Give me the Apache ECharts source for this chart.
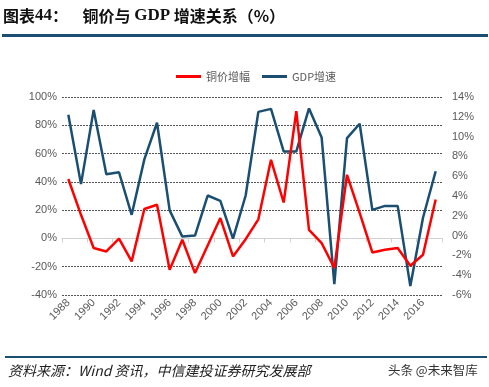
<!DOCTYPE html>
<html><head><meta charset="utf-8">
<script src="https://cdn.jsdelivr.net/npm/echarts@6/dist/echarts.min.js"></script>
<style>html,body{margin:0;padding:0;background:#fff}#c{width:489px;height:387px}</style>
</head><body><div id="c"></div>
<script>
const years = ['1988','1989','1990','1991','1992','1993','1994','1995','1996','1997','1998','1999','2000','2001','2002','2003','2004','2005','2006','2007','2008','2009','2010','2011','2012','2013','2014','2015','2016','2017'];
const copperGrowth = [42,16.7,-6.8,-9.2,-0.2,-16.2,20.8,23.8,-22.1,-0.9,-24.5,-5,14.4,-12.7,-0.5,13.5,55.6,25.4,90,6.1,-3.3,-20.9,45,18,-9.9,-8,-6.8,-19.3,-11.5,27.5];
const gdpGrowth = [12.2,5.2,12.7,6.2,6.4,2.1,7.7,11.4,2.55,-0.1,0,4.05,3.5,-0.3,4.05,12.5,12.8,8.5,8.5,12.85,9.9,-4.9,9.85,11.3,2.6,3.0,3.0,-5.1,1.8,6.5];
const leftTicks = {min:-40, max:100, interval:20};
const rightTicks = {min:-6, max:14, interval:2};

const chart = echarts.init(document.getElementById('c'), null, {renderer:'canvas'});
const grey = '#595959';
chart.setOption({
  animation:false,
  backgroundColor:'#fff',
  graphic:[
    {type:'text', left:3, top:7, style:{
      text:'{a|图表}{b|44}{a|：    铜价与 }{b|GDP}{a| 增速关系（%）}',
      rich:{
        a:{fontFamily:'Noto Sans CJK SC', fontWeight:'bold', fontSize:16, fill:'#111'},
        b:{fontFamily:'Liberation Serif', fontWeight:'bold', fontSize:17, fill:'#111'}
      }}},
    {type:'rect', shape:{x:2, y:34, width:486, height:3}, style:{fill:'#1b4f72'}},
    {type:'rect', shape:{x:5, y:356, width:482, height:2}, style:{fill:'#1b4f72'}},
    {type:'text', left:8, top:364, style:{text:'资料来源：Wind 资讯，中信建投证券研究发展部', fontFamily:'Noto Sans CJK SC', fontStyle:'italic', fontSize:14, fill:'#222'}},
    {type:'text', left:388, top:364, style:{text:'头条 @未来智库', fontFamily:'Noto Sans CJK SC', fontSize:12.5, fill:'#333'}}
  ],
  legend:{
    top:66, left:171, itemWidth:25, itemHeight:3, itemGap:12,
    icon:'rect',
    textStyle:{color:grey, fontFamily:'Noto Sans CJK SC', fontSize:11},
    data:['铜价增幅','GDP增速']
  },
  grid:{left:62, right:47, top:97, bottom:92},
  xAxis:[
    {type:'category', data:years, boundaryGap:true, position:'bottom',
     axisLine:{show:false, onZero:false}, axisTick:{show:false},
     axisLabel:{interval:1, rotate:45, color:grey, fontFamily:'Liberation Sans', fontSize:11, margin:6}},
    {type:'category', data:years, boundaryGap:true, position:'bottom',
     axisLine:{show:true, onZero:true, lineStyle:{color:'#d0d0d0', width:1}},
     axisTick:{show:true, interval:1, length:4, lineStyle:{color:'#d0d0d0'}},
     axisLabel:{show:false}}
  ],
  yAxis:[
    {type:'value', min:leftTicks.min, max:leftTicks.max, interval:leftTicks.interval,
     axisLine:{show:false}, axisTick:{show:false},
     axisLabel:{formatter:'{value}%', color:grey, fontFamily:'Liberation Sans', fontSize:11, margin:5},
     splitLine:{show:true, lineStyle:{color:['#555','#555','rgba(0,0,0,0)','#555','#555','#555','#555','#555'], type:[2,1], width:1}}},
    {type:'value', min:rightTicks.min, max:rightTicks.max, interval:rightTicks.interval,
     axisLine:{show:false}, axisTick:{show:false},
     axisLabel:{formatter:'{value}%', color:grey, fontFamily:'Liberation Sans', fontSize:11, margin:10},
     splitLine:{show:false}}
  ],
  series:[
    {name:'铜价增幅', type:'line', data:copperGrowth, yAxisIndex:0, xAxisIndex:0, symbol:'none',
     lineStyle:{color:'#ff0000', width:2.5}, itemStyle:{color:'#ff0000'}, z:3},
    {name:'GDP增速', type:'line', data:gdpGrowth, yAxisIndex:1, xAxisIndex:0, symbol:'none',
     lineStyle:{color:'#1b4f72', width:2.5}, itemStyle:{color:'#1b4f72'}, z:2}
  ]
});
</script></body></html>
